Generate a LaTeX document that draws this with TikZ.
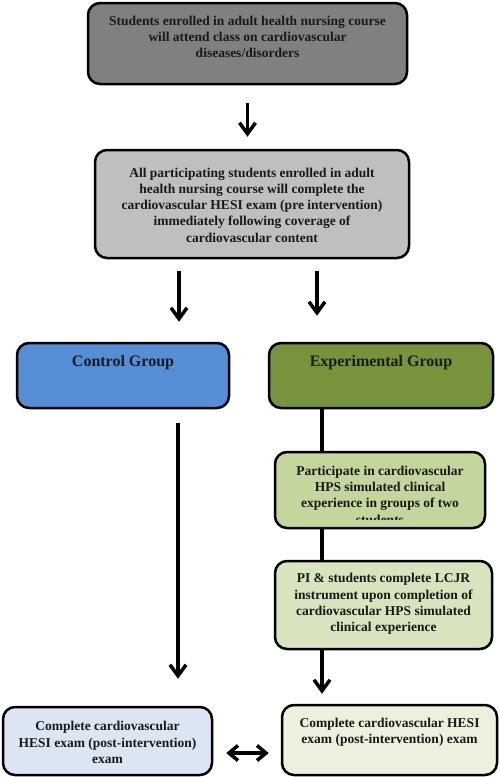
\documentclass[tikz,border=0pt]{standalone}
\usepackage{fontspec}
\setmainfont{Liberation Serif}
\usetikzlibrary{arrows.meta}
\definecolor{cA}{HTML}{808080}
\definecolor{cB}{HTML}{BFBFBF}
\definecolor{cCtl}{HTML}{558ED5}
\definecolor{cExp}{HTML}{77933C}
\definecolor{cPart}{HTML}{C3D69B}
\definecolor{cPI}{HTML}{D7E4BD}
\definecolor{cBL}{HTML}{DCE6F2}
\definecolor{cBR}{HTML}{EDF0DC}
\pgfdeclarelayer{bg}
\pgfsetlayers{bg,main}
\begin{document}
\begin{tikzpicture}[x=1pt,y=-1pt,
  box/.style={draw=black, line width=2.5pt, rounded corners=12pt, inner sep=0pt},
  txt/.style={align=center, inner sep=0pt, font=\bfseries\fontsize{13.5}{16.3}\selectfont, text=black!90},
  big/.style={inner sep=0pt, font=\bfseries\fontsize{16}{19}\selectfont, text=black!90},
  arr/.style={line width=3.5pt, -{Straight Barb[length=11pt,width=16pt]}},
  darr/.style={line width=3.5pt, {Straight Barb[length=9pt,width=15pt]}-{Straight Barb[length=9pt,width=15pt]}},
  seg/.style={line width=3.5pt}]
\useasboundingbox (0,0) rectangle (500,777);
% boxes
\node[box, fill=cA, minimum width=319pt, minimum height=81pt] (b1) at (247.5,43.5) {};
\node[txt] (b1t) at (247.5,37) {Students enrolled in adult health nursing course\\will attend class on cardiovascular\\diseases/disorders};
\node[box, fill=cB, minimum width=314pt, minimum height=108pt] (b2) at (252,204) {};
\node[txt] (b2t) at (252,205) {All participating students enrolled in adult\\health nursing course will complete the\\cardiovascular HESI exam (pre intervention)\\immediately following coverage of\\cardiovascular content};
\node[box, fill=cCtl, minimum width=212pt, minimum height=65pt] (ctl) at (123,375.5) {};
\node[big] (ctlt) at (123,363) {Control Group};
\node[box, fill=cExp, minimum width=224pt, minimum height=65pt] (exp) at (381,375.5) {};
\node[big] (expt) at (381,363) {Experimental Group};
\node[box, fill=cPart, minimum width=210pt, minimum height=76pt] (part) at (380,490) {};
\begin{scope}
\clip (275,452) rectangle (485,519.5);
\node[txt] (partt) at (380,495) {Participate in cardiovascular\\HPS simulated clinical\\experience in groups of two\\students};
\end{scope}
\node[box, fill=cPI, minimum width=217pt, minimum height=88pt] (pi) at (383.5,605) {};
\node[txt] (pit) at (383.5,604) {PI \& students complete LCJR\\instrument upon completion of\\cardiovascular HPS simulated\\clinical experience};
\node[box, fill=cBL, minimum width=209pt, minimum height=68pt] (bl) at (107.5,741) {};
\node[txt] (blt) at (107.5,742.5) {Complete cardiovascular\\HESI exam (post-intervention)\\exam};
\node[box, fill=cBR, minimum width=215pt, minimum height=70pt] (br) at (389.5,740) {};
\node[txt] (brt) at (389.5,732) {Complete cardiovascular HESI\\exam (post-intervention) exam};
% helper coordinates
\coordinate (xl) at (179,0);
\coordinate (xr) at (317,0);
\coordinate (xc) at (178,0);
\coordinate (xe) at (322,0);
\coordinate (yd) at (0,753);
% connectors
\begin{pgfonlayer}{bg}
\draw[arr, shorten <=18pt, shorten >=12pt] (b1.south) -- (b1.south |- b2.north);
\draw[arr, shorten <=12pt, shorten >=20pt] (b2.south -| xl) -- (ctl.north -| xl);
\draw[arr, shorten <=12pt, shorten >=26pt] (b2.south -| xr) -- (exp.north -| xr);
\draw[arr, shorten <=14pt, shorten >=27pt] (ctl.south -| xc) -- (bl.north -| xc);
\draw[seg] (exp.south -| xe) -- (part.north -| xe);
\draw[seg] (part.south -| xe) -- (pi.north -| xe);
\draw[arr, shorten >=10pt] (pi.south -| xe) -- (br.north -| xe);
\draw[darr, shorten <=13pt, shorten >=12pt] (bl.east |- yd) -- (br.west |- yd);
\end{pgfonlayer}
\end{tikzpicture}
\end{document}
